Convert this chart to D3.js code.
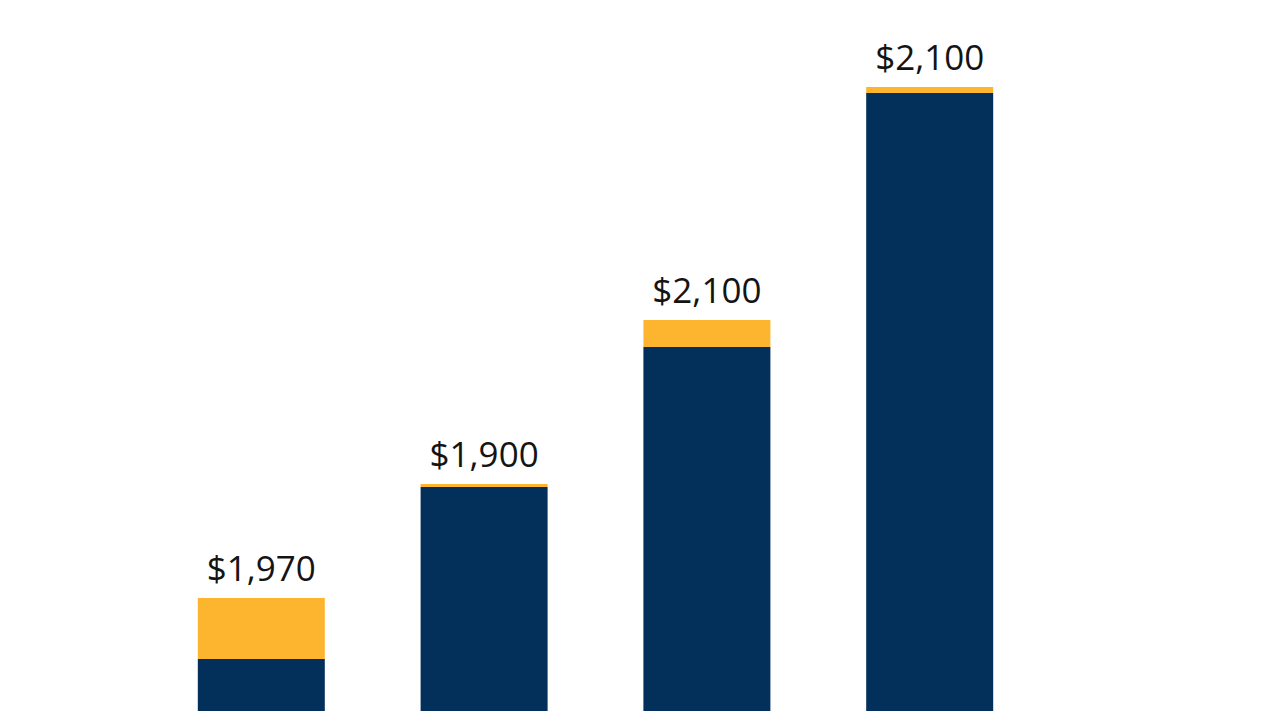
<!DOCTYPE html>
<html>
<head>
<meta charset="utf-8">
<script src="https://cdn.jsdelivr.net/npm/d3@7"></script>
<style>
  html, body { margin: 0; padding: 0; background: #ffffff; }
  svg { display: block; }
</style>
</head>
<body>
<svg id="chart" width="1280" height="720"></svg>
<script>
// Data (bar segment heights in chart units)
const categories = ["A", "B", "C", "D"];
const baseValues = [52, 224, 364, 618];   // navy segment
const topValues = [61, 3, 27, 6];         // gold segment
const labels = ["$1,970", "$1,900", "$2,100", "$2,100"];

const W = 1280, H = 720;
const svg = d3.select("#chart");

const x = d3.scaleBand().domain(categories).range([102, 1089]).padding(0.43);
const y = d3.scaleLinear().domain([0, 711]).range([711, 0]);

const NAVY = "#03305b";
const GOLD = "#fdb52f";

const rows = categories.map((c, i) => ({ c, base: baseValues[i], top: topValues[i], label: labels[i] }));

svg.append("g").selectAll("rect.base").data(rows).join("rect")
  .attr("class", "base")
  .attr("x", d => x(d.c))
  .attr("width", x.bandwidth())
  .attr("y", d => y(d.base))
  .attr("height", d => y(0) - y(d.base))
  .attr("fill", NAVY);

svg.append("g").selectAll("rect.top").data(rows).join("rect")
  .attr("class", "top")
  .attr("x", d => x(d.c))
  .attr("width", x.bandwidth())
  .attr("y", d => y(d.base + d.top))
  .attr("height", d => y(d.base) - y(d.base + d.top))
  .attr("fill", GOLD);

svg.append("g").selectAll("text").data(rows).join("text")
  .attr("x", d => x(d.c) + x.bandwidth() / 2)
  .attr("y", d => y(d.base + d.top) - 17)
  .attr("text-anchor", "middle")
  .attr("font-family", "'Open Sans', sans-serif")
  .attr("font-size", 35)
  .attr("fill", "#141414")
  .text(d => d.label);
</script>
</body>
</html>
